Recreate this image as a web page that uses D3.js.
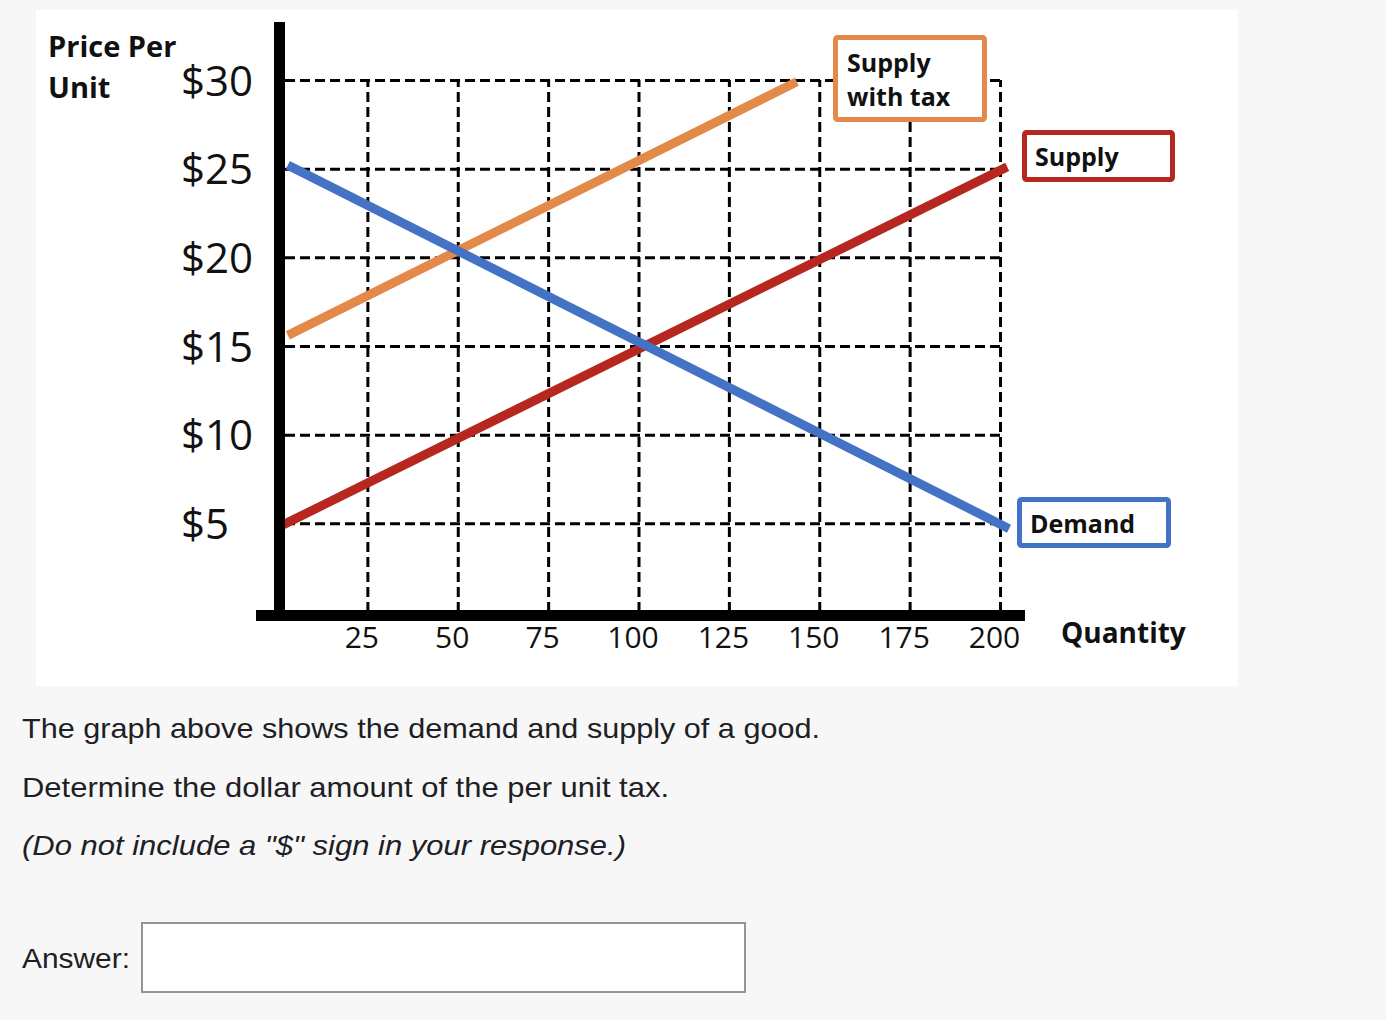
<!DOCTYPE html>
<html>
<head>
<meta charset="utf-8">
<script src="https://cdn.jsdelivr.net/npm/d3@7"></script>
<style>
  html, body { margin: 0; padding: 0; background: #f7f7f7; }
  svg { display: block; }
</style>
</head>
<body>
<script>
// ---- data ----
const quantityTicks = [25, 50, 75, 100, 125, 150, 175, 200];
const priceTicks = [5, 10, 15, 20, 25, 30];
const priceTickLabels = ["$5", "$10", "$15", "$20", "$25", "$30"];
const demand = [{q: 3, p: 25.2}, {q: 202.5, p: 4.7}];
const supply = [{q: 1.5, p: 4.9}, {q: 202, p: 25.1}];
const supplyWithTax = [{q: 3, p: 15.6}, {q: 143.8, p: 29.9}];
const legendItems = [
  {key: "tax", lines: ["Supply", "with tax"]},
  {key: "supply", lines: ["Supply"]},
  {key: "demand", lines: ["Demand"]}
];
const colors = {demand: "#4472C4", supply: "#B5271F", tax: "#E3894A"};
const questionLines = [
  "The graph above shows the demand and supply of a good.",
  "Determine the dollar amount of the per unit tax.",
  "(Do not include a \"$\" sign in your response.)"
];

// ---- layout ----
const W = 1386, H = 1020;
const svg = d3.select("body").append("svg").attr("width", W).attr("height", H);
svg.append("rect").attr("width", W).attr("height", H).attr("fill", "#f7f7f7");
svg.append("rect").attr("x", 36).attr("y", 10).attr("width", 1202).attr("height", 676).attr("fill", "#ffffff");

const x = d3.scaleLinear().domain([0, 200]).range([277, 1000]);
const y = d3.scaleLinear().domain([0, 30]).range([612, 80]);
const chartFont = "'Open Sans', 'Noto Sans', sans-serif";

// vertical gridlines + quantity labels
const gx = svg.append("g").attr("transform", `translate(0,${y(0)})`)
  .call(d3.axisBottom(x).tickValues(quantityTicks).tickSize(-(y(0) - y(30))).tickFormat(d3.format("d")));
gx.select(".domain").remove();
gx.selectAll(".tick line").attr("stroke", "#000").attr("stroke-width", 3).attr("stroke-dasharray", "10,5");
gx.selectAll(".tick text").attr("y", 36).attr("dy", 0).attr("x", -6)
  .attr("font-family", chartFont).attr("font-size", 30).attr("fill", "#111");

// horizontal gridlines + price labels
const gy = svg.append("g").attr("transform", `translate(285,0)`)
  .call(d3.axisLeft(y).tickValues(priceTicks).tickSize(-(x(200) - 285))
    .tickFormat((d, i) => priceTickLabels[i]));
gy.select(".domain").remove();
gy.selectAll(".tick line").attr("stroke", "#000").attr("stroke-width", 3).attr("stroke-dasharray", "10,5");
gy.selectAll(".tick text").attr("x", -104).attr("dy", 0).attr("y", 15).attr("text-anchor", "start")
  .attr("font-family", chartFont).attr("font-size", 42).attr("fill", "#111");

// curves
const line = d3.line().x(d => x(d.q)).y(d => y(d.p));
[[supplyWithTax, colors.tax], [supply, colors.supply], [demand, colors.demand]].forEach(([data, c]) => {
  svg.append("path").datum(data).attr("d", line).attr("fill", "none")
    .attr("stroke", c).attr("stroke-width", 9);
});

// axis bars
svg.append("line").attr("x1", x(0) + 2.5).attr("x2", x(0) + 2.5).attr("y1", 22).attr("y2", y(0) + 9)
  .attr("stroke", "#000").attr("stroke-width", 11);
svg.append("line").attr("x1", 256).attr("x2", 1025).attr("y1", y(0) + 3.5).attr("y2", y(0) + 3.5)
  .attr("stroke", "#000").attr("stroke-width", 11);

// axis titles
const titleG = svg.append("g").attr("font-family", chartFont).attr("font-weight", 700).attr("fill", "#111");
titleG.append("text").attr("x", 48).attr("y", 57).attr("font-size", 29).text("Price Per");
titleG.append("text").attr("x", 48).attr("y", 98).attr("font-size", 29).text("Unit");
titleG.append("text").attr("x", 1061).attr("y", 643).attr("font-size", 28).text("Quantity");

// legend boxes
const legendBoxes = {
  tax: {x: 835.5, y: 37.5, w: 149, h: 82, tx: 847, ty: [72, 106]},
  supply: {x: 1024.5, y: 132.5, w: 148, h: 47, tx: 1035, ty: [166]},
  demand: {x: 1019.5, y: 499.5, w: 149, h: 46, tx: 1030, ty: [533]}
};
legendItems.forEach(item => {
  const b = legendBoxes[item.key];
  svg.append("rect").attr("x", b.x).attr("y", b.y).attr("width", b.w).attr("height", b.h)
    .attr("rx", 2).attr("fill", "#fff").attr("stroke", colors[item.key]).attr("stroke-width", 5);
  item.lines.forEach((t, i) => {
    svg.append("text").attr("x", b.tx).attr("y", b.ty[i]).attr("font-family", chartFont)
      .attr("font-weight", 700).attr("font-size", 25).attr("fill", "#111").text(t);
  });
});

// question text
const qFont = "'Liberation Sans', Arial, sans-serif";
const qBaselines = [738, 797, 855];
const qWidths = [798, 647, 604];
questionLines.forEach((t, i) => {
  svg.append("text").attr("x", 22).attr("y", qBaselines[i]).attr("font-family", qFont)
    .attr("font-size", 28).attr("fill", "#1d2125")
    .attr("font-style", i === 2 ? "italic" : "normal")
    .attr("textLength", qWidths[i]).attr("lengthAdjust", "spacingAndGlyphs").text(t);
});
svg.append("text").attr("x", 22).attr("y", 968).attr("font-family", qFont).attr("font-size", 28)
  .attr("fill", "#1d2125").attr("textLength", 108).attr("lengthAdjust", "spacingAndGlyphs").text("Answer:");
svg.append("rect").attr("x", 142).attr("y", 923).attr("width", 603).attr("height", 69)
  .attr("fill", "#fff").attr("stroke", "#8f959e").attr("stroke-width", 2);
</script>
</body>
</html>
